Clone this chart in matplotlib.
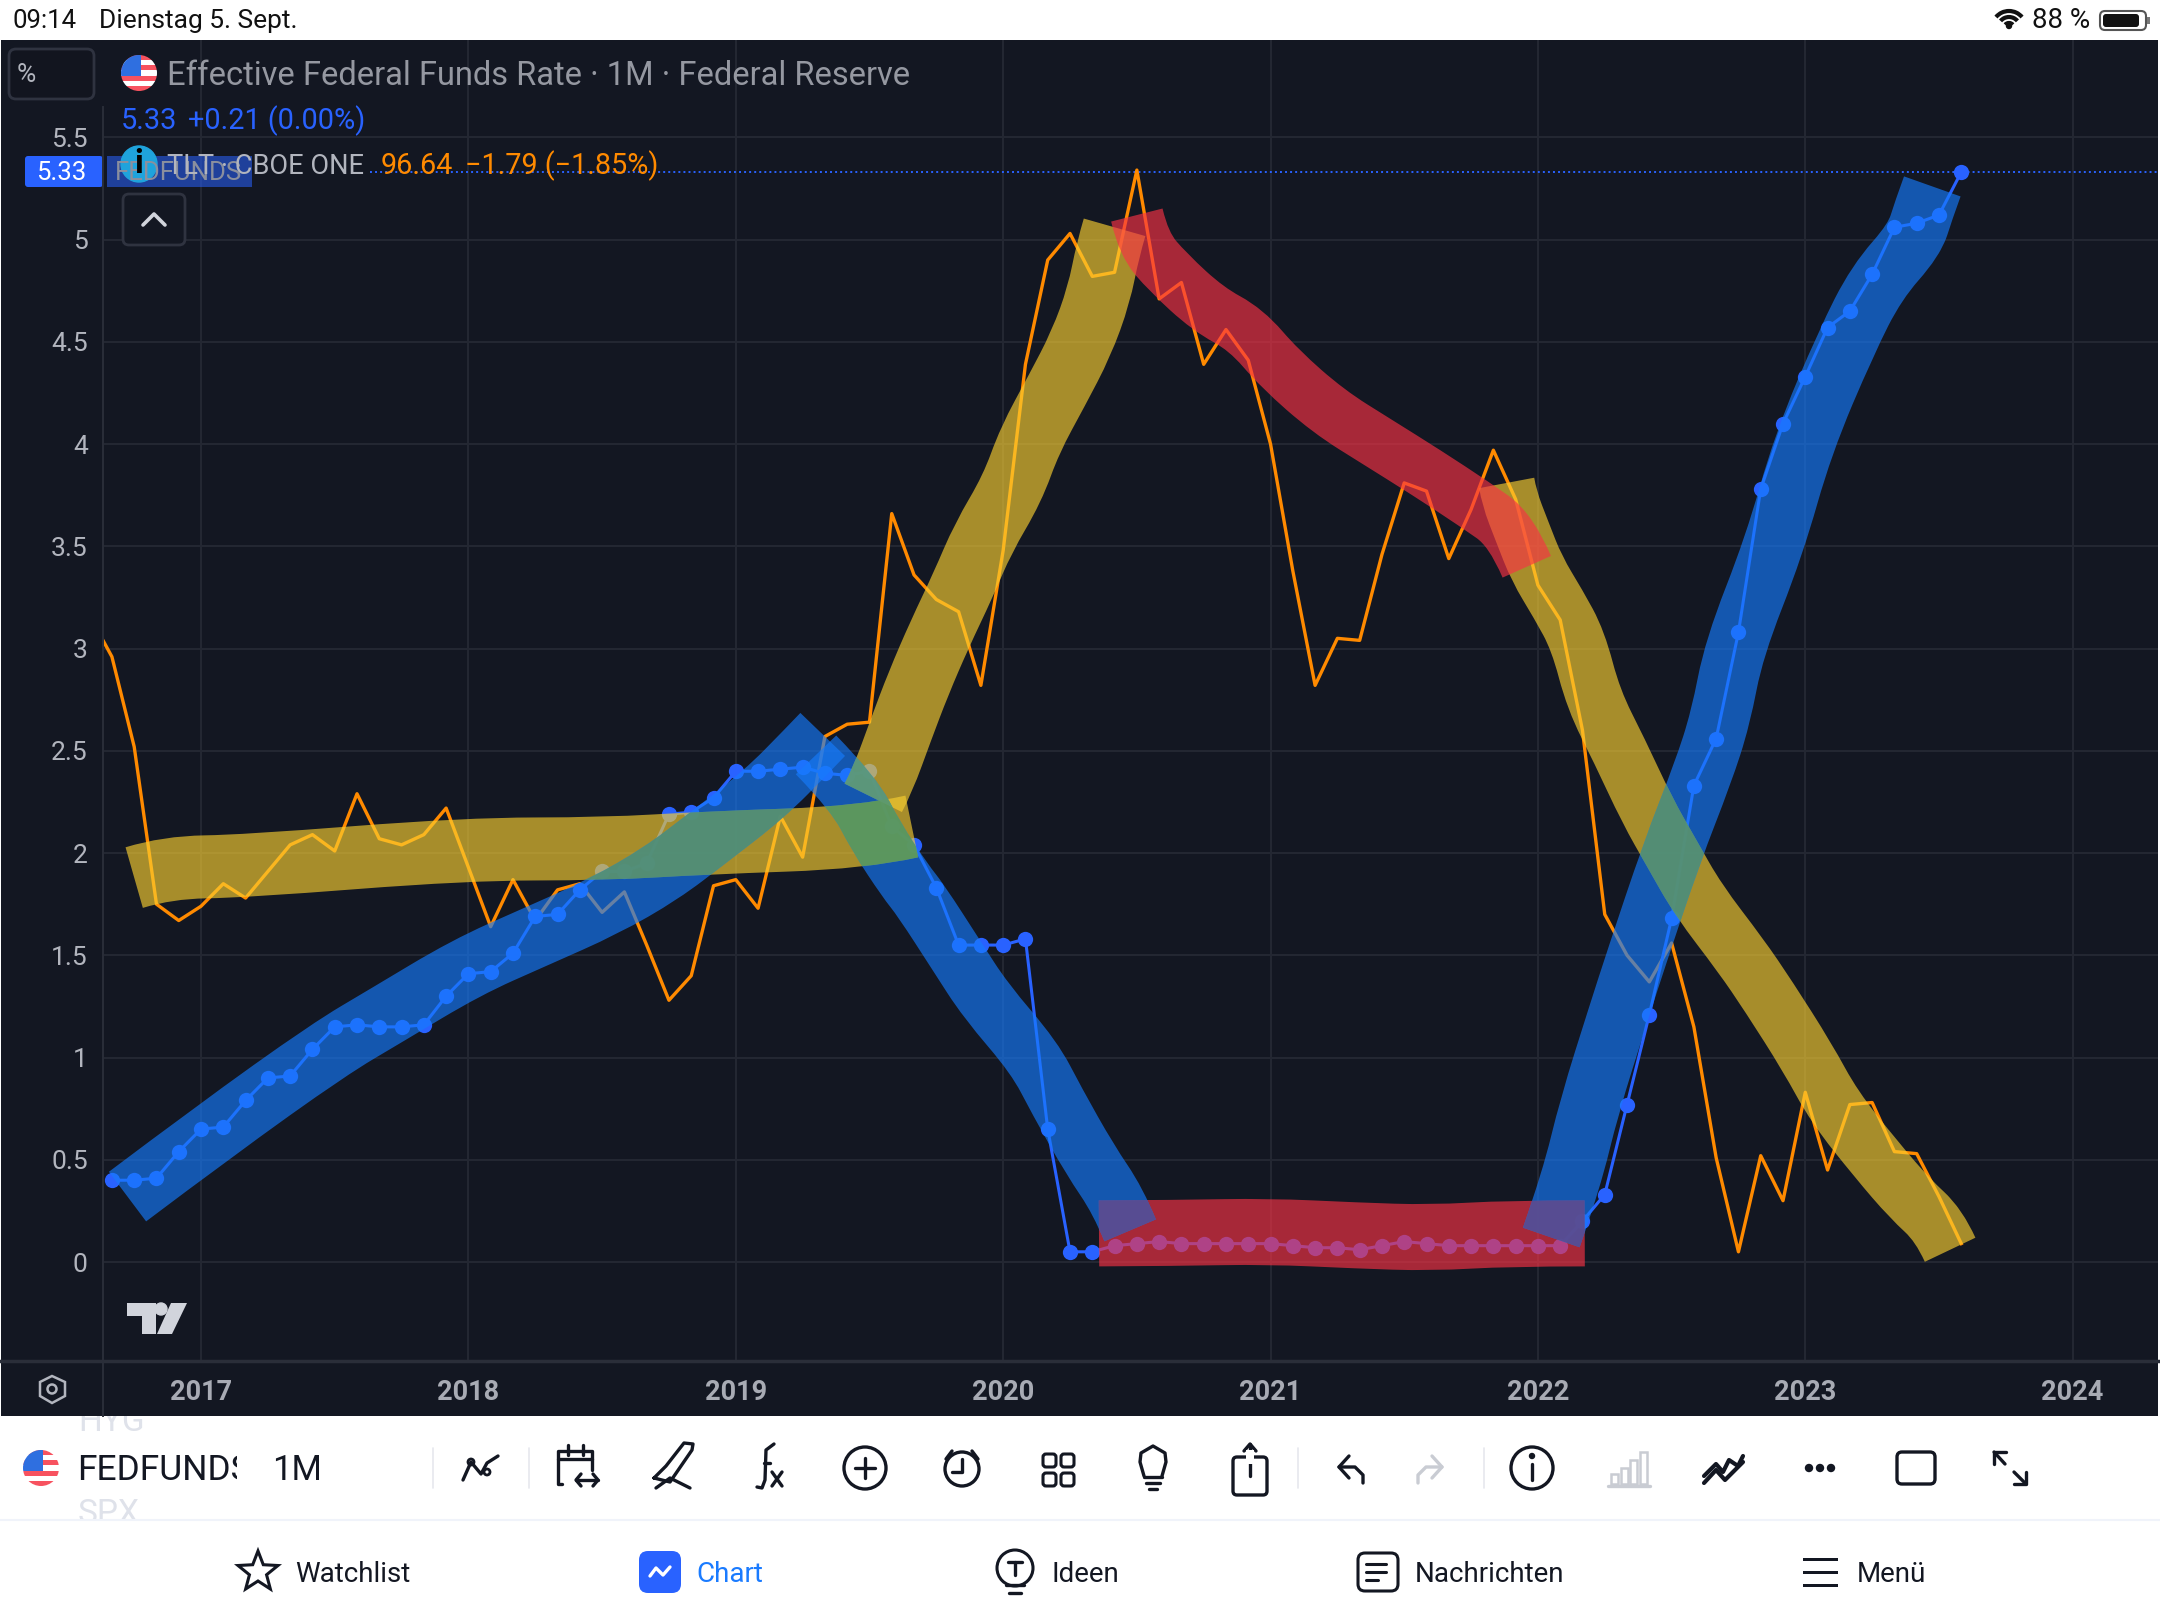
import matplotlib
matplotlib.use('Agg')
import matplotlib.pyplot as plt
import numpy as np
from matplotlib.patches import Circle, FancyBboxPatch, PathPatch, Polygon, Rectangle, Arc
from matplotlib.path import Path
from matplotlib.transforms import IdentityTransform

plt.rcParams['font.family'] = ['Roboto', 'DejaVu Sans']

# months counted from Jan 2017
fed_months = np.arange(-4, 80)
fed_rate = [0.40, 0.40, 0.41, 0.54,
            0.65, 0.66, 0.79, 0.90, 0.91, 1.04, 1.15, 1.16, 1.15, 1.15, 1.16, 1.30,
            1.41, 1.42, 1.51, 1.69, 1.70, 1.82, 1.91, 1.91, 1.95, 2.19, 2.20, 2.27,
            2.40, 2.40, 2.41, 2.42, 2.39, 2.38, 2.40, 2.13, 2.04, 1.83, 1.55, 1.55,
            1.55, 1.58, 0.65, 0.05, 0.05, 0.08, 0.09, 0.10, 0.09, 0.09, 0.09, 0.09,
            0.09, 0.08, 0.07, 0.07, 0.06, 0.08, 0.10, 0.09, 0.08, 0.08, 0.08, 0.08,
            0.08, 0.08, 0.20, 0.33, 0.77, 1.21, 1.68, 2.33, 2.56, 3.08, 3.78, 4.10,
            4.33, 4.57, 4.65, 4.83, 5.06, 5.08, 5.12, 5.33]

# TLT on the same scale, one point further left (cut by the axis)
tlt_months = np.arange(-5, 80)
tlt_scaled = [3.16, 2.96, 2.52, 1.75, 1.67, 1.74, 1.85, 1.78, 1.91, 2.04, 2.09, 2.01,
              2.29, 2.07, 2.04, 2.09, 2.22, 1.93, 1.64, 1.87, 1.67, 1.82, 1.85, 1.71,
              1.81, 1.55, 1.28, 1.40, 1.84, 1.87, 1.73, 2.18, 1.98, 2.57, 2.63, 2.64,
              3.66, 3.36, 3.24, 3.18, 2.82, 3.48, 4.39, 4.90, 5.03, 4.82, 4.84, 5.34,
              4.71, 4.79, 4.39, 4.56, 4.41, 4.00, 3.38, 2.82, 3.05, 3.04, 3.46, 3.81,
              3.77, 3.44, 3.68, 3.97, 3.73, 3.31, 3.14, 2.60, 1.70, 1.50, 1.37, 1.56,
              1.15, 0.51, 0.05, 0.52, 0.30, 0.83, 0.45, 0.77, 0.78, 0.54, 0.53, 0.32, 0.09]

# hand drawn brush strokes, centre lines
red1_m = [40.3, 43.8, 47.9, 51.8, 55.2, 58.7, 62.1]
red1_v = [0.14, 0.142, 0.15, 0.13, 0.118, 0.14, 0.14]
red2_m = [42.0, 42.3, 43.4, 45.2, 46.9, 48.4, 50.6, 52.8, 55.0, 57.1, 58.8, 59.5]
red2_v = [5.12, 4.98, 4.84, 4.66, 4.56, 4.37, 4.16, 4.01, 3.86, 3.71, 3.58, 3.40]
blue1_m = [-3.3, 0.6, 5.74, 8.3, 11.9, 15.0, 18.1, 20.65, 22.7, 25.3, 27.2, 27.9]
blue1_v = [0.32, 0.64, 1.04, 1.205, 1.44, 1.59, 1.74, 1.90, 2.07, 2.29, 2.50, 2.58]
blue2_m = [27.6, 29.3, 30.3, 31.6, 32.3, 33.9, 35.2, 37.4, 38.4, 39.9, 41.15, 41.7]
blue2_v = [2.48, 2.29, 2.08, 1.865, 1.77, 1.50, 1.28, 1.00, 0.79, 0.50, 0.30, 0.155]
blue3_m = [60.6, 61.5, 62.3, 63.6, 64.4, 66.0, 67.4, 68.2, 68.8, 70.6, 71.9, 73.85, 75.2, 76.9, 77.3, 77.7]
blue3_v = [0.12, 0.40, 0.76, 1.21, 1.48, 2.00, 2.39, 2.66, 3.00, 3.50, 4.00, 4.50, 4.79, 5.00, 5.14, 5.26]
yellow1_m = [-3.0, -1.5, 1.9, 11.9, 18.1, 22.7, 29.7, 31.9]
yellow1_v = [1.88, 1.93, 1.935, 2.02, 2.02, 2.05, 2.076, 2.13]
yellow2_m = [30.17, 30.6, 31.4, 32.2, 33.15, 34.2, 35.1, 36.4, 37.2, 38.4, 39.5, 40.3, 40.7, 41.0]
yellow2_v = [2.27, 2.36, 2.60, 2.83, 3.07, 3.31, 3.54, 3.78, 4.02, 4.26, 4.49, 4.73, 4.95, 5.06]
yellow3_m = [58.6, 58.7, 59.3, 59.95, 60.9, 61.8, 62.5, 63.66, 64.9, 66.0, 67.2, 69.1, 70.35, 72.1, 73.3, 75.2, 76.7, 78.0, 78.5]
yellow3_v = [3.81, 3.74, 3.57, 3.39, 3.22, 3.04, 2.75, 2.50, 2.21, 2.00, 1.77, 1.50, 1.30, 1.00, 0.76, 0.50, 0.31, 0.18, 0.06]

year_labels = ['2017', '2018', '2019', '2020', '2021', '2022', '2023', '2024']
price_ticks = [0, 0.5, 1, 1.5, 2, 2.5, 3, 3.5, 4, 4.5, 5, 5.5]
price_labels = ['0', '0.5', '1', '1.5', '2', '2.5', '3', '3.5', '4', '4.5', '5', '5.5']
last_value = 5.33

W, H = 2160, 1620
BG = '#131722'
GRID = '#242833'
LABEL = '#b2b5be'
DARK = '#131722'
BLUE = '#2962ff'
ORANGE = '#ff8a00'
YELLOW_C = '#f8ce31'
RED_C = '#f83245'
BLUE_C = '#167bfc'

fig = plt.figure(figsize=(21.6, 16.2), dpi=100, facecolor='white')

under = fig.add_axes([0, 0, 1, 1], zorder=0)
under.set_xlim(0, W)
under.set_ylim(H, 0)
under.axis('off')
under.text(78, 1422, 'HYG', fontsize=24, color='#dfe2ea', ha='left', va='center')
under.text(78, 1514, 'SPX', fontsize=24, color='#dfe2ea', ha='left', va='center')
under.add_patch(Rectangle((1, 40), 2157, 1376, fc=BG, ec='none', zorder=5))
under.add_patch(Rectangle((0, 1520), W, 100, fc='white', ec='none', zorder=5))

ax = fig.add_axes([103 / W, 1 - 1361 / H, 2055 / W, 1321 / H], zorder=1)
ax.set_facecolor(BG)
ax.set_xlim(-4.40, 87.83)
ax.set_ylim(-0.484, 5.976)
for s in ax.spines.values():
    s.set_visible(False)
ax.set_xticks(np.arange(0, 96, 12))
ax.set_xticklabels(year_labels, fontsize=19.5, color='#a8abb4', fontweight='bold')
ax.set_yticks(price_ticks)
ax.set_yticklabels(price_labels, fontsize=19, color=LABEL)
ax.tick_params(axis='x', length=0, pad=13)
ax.tick_params(axis='y', length=0, pad=11)
ax.grid(True, color=GRID, lw=1.4)
ax.set_axisbelow(True)

ax.plot(tlt_months, tlt_scaled, color=ORANGE, lw=2.4, zorder=3)
ax.plot(fed_months, fed_rate, color=BLUE, lw=2.2, marker='o', ms=11, mec='none', zorder=3)
ax.plot([7.6, 90], [last_value, last_value], color=BLUE, lw=1.4, ls=(0, (1, 1.6)), zorder=2)


def brush_path(bm, bv):
    # points are control points of a quadratic curve, so the stroke has no corners
    pts = np.c_[bm, bv]
    verts = [pts[0]]
    codes = [Path.MOVETO]
    for i in range(1, len(pts) - 1):
        end = pts[i + 1] if i == len(pts) - 2 else (pts[i] + pts[i + 1]) / 2
        verts += [pts[i], end]
        codes += [Path.CURVE3, Path.CURVE3]
    return Path(verts, codes)


def brush(bm, bv, col, width, alpha=0.65, clip=None, z=4):
    p = PathPatch(brush_path(bm, bv), fc='none', ec=col, lw=width * 0.72, alpha=alpha,
                  capstyle='butt', joinstyle='round', zorder=z)
    ax.add_patch(p)
    if clip is not None:
        p.set_clip_path(clip, IdentityTransform())
    return p


def outline(bm, bv, width):
    # polygon around a stroke in pixels, used to tint only the crossings
    xy = brush_path(bm, bv).to_polygons(ax.transData, closed_only=False)[0]
    d = np.gradient(xy, axis=0)
    n = np.c_[-d[:, 1], d[:, 0]] / np.maximum(np.hypot(d[:, 0], d[:, 1]), 1e-6)[:, None]
    a = xy + n * width / 2
    b = xy - n * width / 2
    return Path(np.vstack([a, b[::-1], a[:1]]))


brush(yellow1_m, yellow1_v, YELLOW_C, 63)
brush(yellow2_m, yellow2_v, YELLOW_C, 64)
brush(yellow3_m, yellow3_v, YELLOW_C, 56)
brush(red1_m, red1_v, RED_C, 66)
brush(red2_m, red2_v, RED_C, 53)
brush(blue1_m, blue1_v, BLUE_C, 62)
brush(blue2_m, blue2_v, BLUE_C, 56)
brush(blue3_m, blue3_v, BLUE_C, 60)

# crossings have their own mixed colour in the original
brush(yellow1_m, yellow1_v, '#55906a', 63, alpha=0.85, clip=outline(blue1_m, blue1_v, 62), z=5)
brush(yellow1_m, yellow1_v, '#5f9a50', 63, alpha=0.85, clip=outline(blue2_m, blue2_v, 56), z=5)
brush(yellow2_m, yellow2_v, '#5f9a70', 64, alpha=0.85, clip=outline(blue2_m, blue2_v, 56), z=5)
brush(yellow3_m, yellow3_v, '#55906a', 56, alpha=0.85, clip=outline(blue3_m, blue3_v, 60), z=5)
brush(red1_m, red1_v, '#5a4a8c', 66, alpha=0.85, clip=outline(blue2_m, blue2_v, 56), z=5)
brush(red1_m, red1_v, '#5a4a8c', 66, alpha=0.85, clip=outline(blue3_m, blue3_v, 60), z=5)

ui = fig.add_axes([0, 0, 1, 1], zorder=2)
ui.set_xlim(0, W)
ui.set_ylim(H, 0)
ui.axis('off')
ui.patch.set_alpha(0)


def ln(xs, ys, c=DARK, lw=2.4):
    ui.plot(xs, ys, color=c, lw=lw, solid_capstyle='round', solid_joinstyle='round')


def flag(cx, cy, r):
    clip = Circle((cx, cy), r, transform=ui.transData)
    for i in range(7):
        col = '#f7525f' if i % 2 == 0 else 'white'
        p = Rectangle((cx - r, cy + r - (i + 1) * 2 * r / 7), 2 * r, 2 * r / 7, fc=col, ec='none')
        ui.add_patch(p)
        p.set_clip_path(clip)
    p = Rectangle((cx - r, cy - r), r * 1.1, r * 1.15, fc='#2f6fe0', ec='none')
    ui.add_patch(p)
    p.set_clip_path(clip)


def box(x, y, w, h, fc='none', ec=DARK, lw=2.4, r=6, alpha=None):
    ui.add_patch(FancyBboxPatch((x + r, y + r), w - 2 * r, h - 2 * r, boxstyle='round,pad=%d' % r,
                                fc=fc, ec=ec, lw=lw, alpha=alpha))


# status bar
ui.text(13, 21, '09:14', fontsize=18.5, color='#111111', va='center')
ui.text(99, 21, 'Dienstag 5. Sept.', fontsize=19, color='#111111', va='center')
ui.text(2032, 21, '88 %', fontsize=20, color='#111111', va='center')
for r in (17, 11, 5):
    ui.add_patch(Arc((2009, 28), 2 * r, 2 * r, theta1=220, theta2=320, color='#111111', lw=3))
ui.add_patch(Circle((2009, 26), 2.5, color='#111111'))
box(2100, 11, 46, 19, ec='#555555', lw=1.5, r=5)
box(2103, 14, 36, 13, fc='#111111', ec='none', lw=0, r=3)
ui.add_patch(Rectangle((2147, 17), 2.5, 7, fc='#777777', ec='none'))

# chart header
box(9, 49, 85, 50, fc='#12151f', ec='#2f3340', lw=2, r=7)
ui.text(17, 75, '%', fontsize=19, color=LABEL, va='center')
flag(139, 73, 18)
ui.text(167, 76, 'Effective Federal Funds Rate · 1M · Federal Reserve', fontsize=23.5,
        color='#9598a1', va='center')
ui.text(121, 121, '5.33', fontsize=20.8, color=BLUE, va='center')
ui.text(188, 121, '+0.21 (0.00%)', fontsize=20.8, color=BLUE, va='center')

ui.plot([103, 103], [107, 1416], color='#2a2e39', lw=1.4)
ui.plot([1, 2158], [1361, 1361], color='#2a2e39', lw=2.5)
box(25, 156, 78, 31, fc=BLUE, ec='none', lw=0, r=3)
ui.text(61, 173, '5.33', fontsize=18.5, color='white', ha='center', va='center')
ui.add_patch(Rectangle((107, 156), 145, 31, fc=BLUE, ec='none', alpha=0.55))
ui.text(115, 173, 'FEDFUNDS', fontsize=18.5, color='#8a8f9e', va='center')
ui.add_patch(Circle((139, 164), 18, color='#1fa3dc'))
ui.text(139, 164, 'i', fontsize=24, color='black', ha='center', va='center', fontweight='bold')
ui.text(167, 166, 'TLT · CBOE ONE', fontsize=19.6, color=LABEL, va='center')
ui.text(381, 166, '96.64', fontsize=20.7, color=ORANGE, va='center')
ui.text(465, 166, '−1.79 (−1.85%)', fontsize=20.7, color=ORANGE, va='center')
box(123, 194, 62, 51, fc=BG, ec='#2f3340', lw=2, r=6)
ln([143, 154, 165], [225, 214, 225], c='#d1d4dc', lw=2.6)

# logo and settings
ui.add_patch(Polygon([(127, 1303), (156, 1303), (156, 1334), (142, 1334), (142, 1316), (127, 1316)],
                     fc='#d1d4dc', ec='none'))
ui.add_patch(Circle((161, 1309), 6, color='#d1d4dc'))
ui.add_patch(Polygon([(171, 1303), (187, 1303), (172, 1334), (157, 1334)], fc='#d1d4dc', ec='none'))
ui.add_patch(Polygon([(52, 1376), (65, 1382), (65, 1396), (52, 1403), (40, 1396), (40, 1382)],
                     fc='none', ec=LABEL, lw=1.8))
ui.add_patch(Circle((52, 1389), 4.5, fc='none', ec=LABEL, lw=1.8))

# toolbar
flag(41, 1468, 18)
t = ui.text(77, 1470, 'FEDFUNDS', fontsize=25.5, color=DARK, va='center')
t.set_clip_on(True)
t.set_clip_path(Rectangle((77, 1440), 160, 60, transform=ui.transData))
ui.text(272, 1470, '1M', fontsize=25, color=DARK, va='center')
for x in (433, 529, 1298, 1484):
    ln([x, x], [1448, 1488], c='#e6e8ee', lw=1.2)

ln([463, 471, 481, 487, 498], [1480, 1462, 1474, 1463, 1456])
ui.add_patch(Circle((471, 1462), 3, fc='white', ec=DARK, lw=2))
ui.add_patch(Circle((487, 1472), 3, fc='white', ec=DARK, lw=2))

ln([562, 558, 558, 592, 592], [1484, 1484, 1451, 1451, 1470])
ln([558, 592], [1459, 1459])
ln([568, 568], [1445, 1455])
ln([583, 583], [1445, 1455])
ln([576, 598], [1480, 1480])
ln([581, 576, 581], [1474, 1480, 1486])
ln([593, 598, 593], [1474, 1480, 1486])

ln([654, 670, 692, 693, 684, 666, 654], [1478, 1482, 1450, 1444, 1443, 1466, 1478])
ln([656, 670, 690], [1488, 1478, 1488])

ln([757, 762, 765, 766, 774], [1487, 1488, 1480, 1450, 1444])
ln([764, 770], [1463, 1463])
ln([772, 782], [1472, 1486])
ln([782, 772], [1472, 1486])

ui.add_patch(Circle((865, 1468), 21, fc='none', ec=DARK, lw=2.4))
ln([865, 865], [1458, 1478])
ln([855, 875], [1468, 1468])

ui.add_patch(Circle((962, 1469), 17, fc='none', ec=DARK, lw=2.4))
ln([962, 962, 952], [1459, 1472, 1472])
ln([946, 952], [1459, 1451])
ln([978, 972], [1459, 1451])

for dx, dy in [(-15, -14), (3, -14), (-15, 5), (3, 5)]:
    box(1058 + dx, 1468 + dy, 13, 13, ec=DARK, lw=2.2, r=3)

ln([1144, 1140, 1141, 1153, 1165, 1166, 1162], [1476, 1462, 1453, 1446, 1453, 1462, 1476])
ln([1144, 1162], [1477, 1477])
ln([1146, 1160], [1483, 1483])
ln([1149, 1157], [1489, 1489])

box(1233, 1457, 34, 38, ec=DARK, lw=2.4, r=4)
ui.add_patch(Rectangle((1246, 1450), 8, 14, fc='white', ec='none', zorder=3))
ln([1250, 1250], [1476, 1444])
ln([1244, 1250, 1256], [1451, 1444, 1451])

ln([1349, 1339, 1349], [1456, 1467, 1478])
ln([1339, 1355, 1363, 1363], [1467, 1467, 1475, 1483])
ln([1432, 1442, 1432], [1456, 1467, 1478], c='#c9ccd3')
ln([1442, 1426, 1418, 1418], [1467, 1467, 1475, 1483], c='#c9ccd3')

ui.add_patch(Circle((1532, 1468), 21, fc='none', ec=DARK, lw=2.4))
ln([1532, 1532], [1464, 1480])
ui.add_patch(Circle((1532, 1456), 2.5, color=DARK))

for x, top in [(1611, 1474), (1621, 1468), (1630, 1460), (1640, 1452)]:
    ui.add_patch(Rectangle((x, top), 7, 1484 - top, fc='none', ec='#c9ccd3', lw=1.8))
ln([1608, 1650], [1486, 1486], c='#c9ccd3')

ln([1704, 1716, 1723, 1729, 1738, 1743], [1476, 1464, 1472, 1460, 1466, 1456], lw=3)
ln([1704, 1716, 1725, 1735, 1743], [1483, 1470, 1480, 1470, 1462], lw=3)

for x in (1809, 1820, 1831):
    ui.add_patch(Circle((x, 1468), 3.5, color=DARK))

box(1897, 1452, 38, 32, ec=DARK, lw=2.4, r=5)
ln([1994, 2005], [1452, 1464])
ln([2014, 2026], [1472, 1484])
ln([1994, 1994, 2006], [1464, 1452, 1452])
ln([2014, 2026, 2026], [1484, 1484, 1472])

ln([0, W], [1520, 1520], c='#f0f3fa', lw=1.5)

# tab bar
star_a = np.deg2rad(np.arange(-90, 270, 36))
star_r = np.array([21, 9] * 5)
ui.add_patch(Polygon(np.c_[258 + star_r * np.cos(star_a), 1572 + star_r * np.sin(star_a)],
                     fc='none', ec=DARK, lw=2.2))
ui.text(295, 1574, 'Watchlist', fontsize=20, color=DARK, va='center')

box(639, 1551, 42, 42, fc=BLUE, ec='none', lw=0, r=9)
ln([650, 656, 663, 670], [1576, 1568, 1575, 1567], c='white', lw=2.4)
ui.text(696, 1574, 'Chart', fontsize=20, color='#1a7bff', va='center')

ui.add_patch(Circle((1015, 1568), 18, fc='none', ec=DARK, lw=2.2))
ln([1008, 1022], [1562, 1562])
ln([1015, 1015], [1562, 1575])
ln([1006, 1024], [1585, 1585])
ln([1009, 1021], [1593, 1593])
ui.text(1052, 1574, 'Ideen', fontsize=20, color=DARK, va='center')

box(1358, 1553, 40, 38, ec=DARK, lw=2.2, r=7)
for y, x2 in [(1564, 1386), (1572, 1386), (1580, 1378)]:
    ln([1366, x2], [y, y], lw=2.2)
ui.text(1415, 1574, 'Nachrichten', fontsize=20, color=DARK, va='center')

for y in (1559, 1572, 1585):
    ui.add_patch(Rectangle((1803, y - 1.5), 35, 3.5, fc=DARK, ec='none'))
ui.text(1857, 1574, 'Menü', fontsize=20, color=DARK, va='center')

fig.savefig('out.png', dpi=100)
